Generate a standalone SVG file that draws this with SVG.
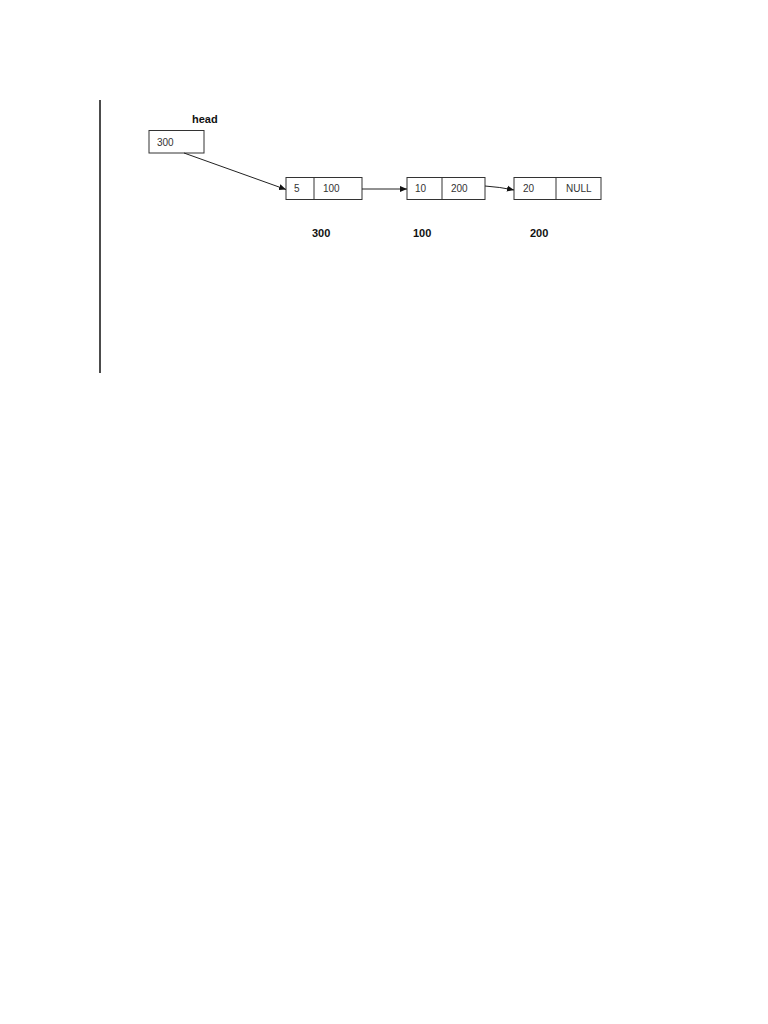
<svg xmlns="http://www.w3.org/2000/svg" width="768" height="1024" viewBox="0 0 768 1024">
<style>
.box{fill:#fff;stroke:#333;stroke-width:1}
.t{font-family:"Liberation Sans",Arial,sans-serif;font-size:10px;fill:#333}
.b{font-family:"Liberation Sans",Arial,sans-serif;font-size:11px;font-weight:bold;fill:#111}
.c{fill:none;stroke:#222;stroke-width:1}
</style>
<defs>
<marker id="ah" markerWidth="8" markerHeight="8" refX="7" refY="4" orient="auto" markerUnits="userSpaceOnUse">
<path d="M0,1 L7,4 L0,7 Z" fill="#111"/>
</marker>
</defs>
<rect width="768" height="1024" fill="#fff"/>
<line x1="100" y1="100" x2="100" y2="373" stroke="#111" stroke-width="1.5"/>
<g id="head">
<text class="b" x="192" y="123">head</text>
<rect class="box" x="149" y="130.5" width="55" height="22.5"/>
<text class="t" x="157" y="146">300</text>
</g>
<g id="node300">
<rect class="box" x="286" y="177.5" width="76" height="22"/>
<line class="box" x1="314" y1="177.5" x2="314" y2="199.5"/>
<text class="t" x="294" y="192">5</text>
<text class="t" x="323" y="192">100</text>
<text class="b" x="312" y="237">300</text>
</g>
<g id="node100">
<rect class="box" x="407" y="177.5" width="78" height="22"/>
<line class="box" x1="442" y1="177.5" x2="442" y2="199.5"/>
<text class="t" x="415" y="192">10</text>
<text class="t" x="451" y="192">200</text>
<text class="b" x="413" y="237">100</text>
</g>
<g id="node200">
<rect class="box" x="514" y="177.5" width="87" height="22"/>
<line class="box" x1="556" y1="177.5" x2="556" y2="199.5"/>
<text class="t" x="523" y="192">20</text>
<text class="t" x="566" y="192">NULL</text>
<text class="b" x="530" y="237">200</text>
</g>
<g id="connectors">
<line class="c" x1="184" y1="153" x2="286" y2="189.5" marker-end="url(#ah)"/>
<line class="c" x1="362" y1="189" x2="407" y2="189" marker-end="url(#ah)"/>
<path class="c" d="M485,186 Q500,187 514,190" marker-end="url(#ah)"/>
</g>
</svg>
